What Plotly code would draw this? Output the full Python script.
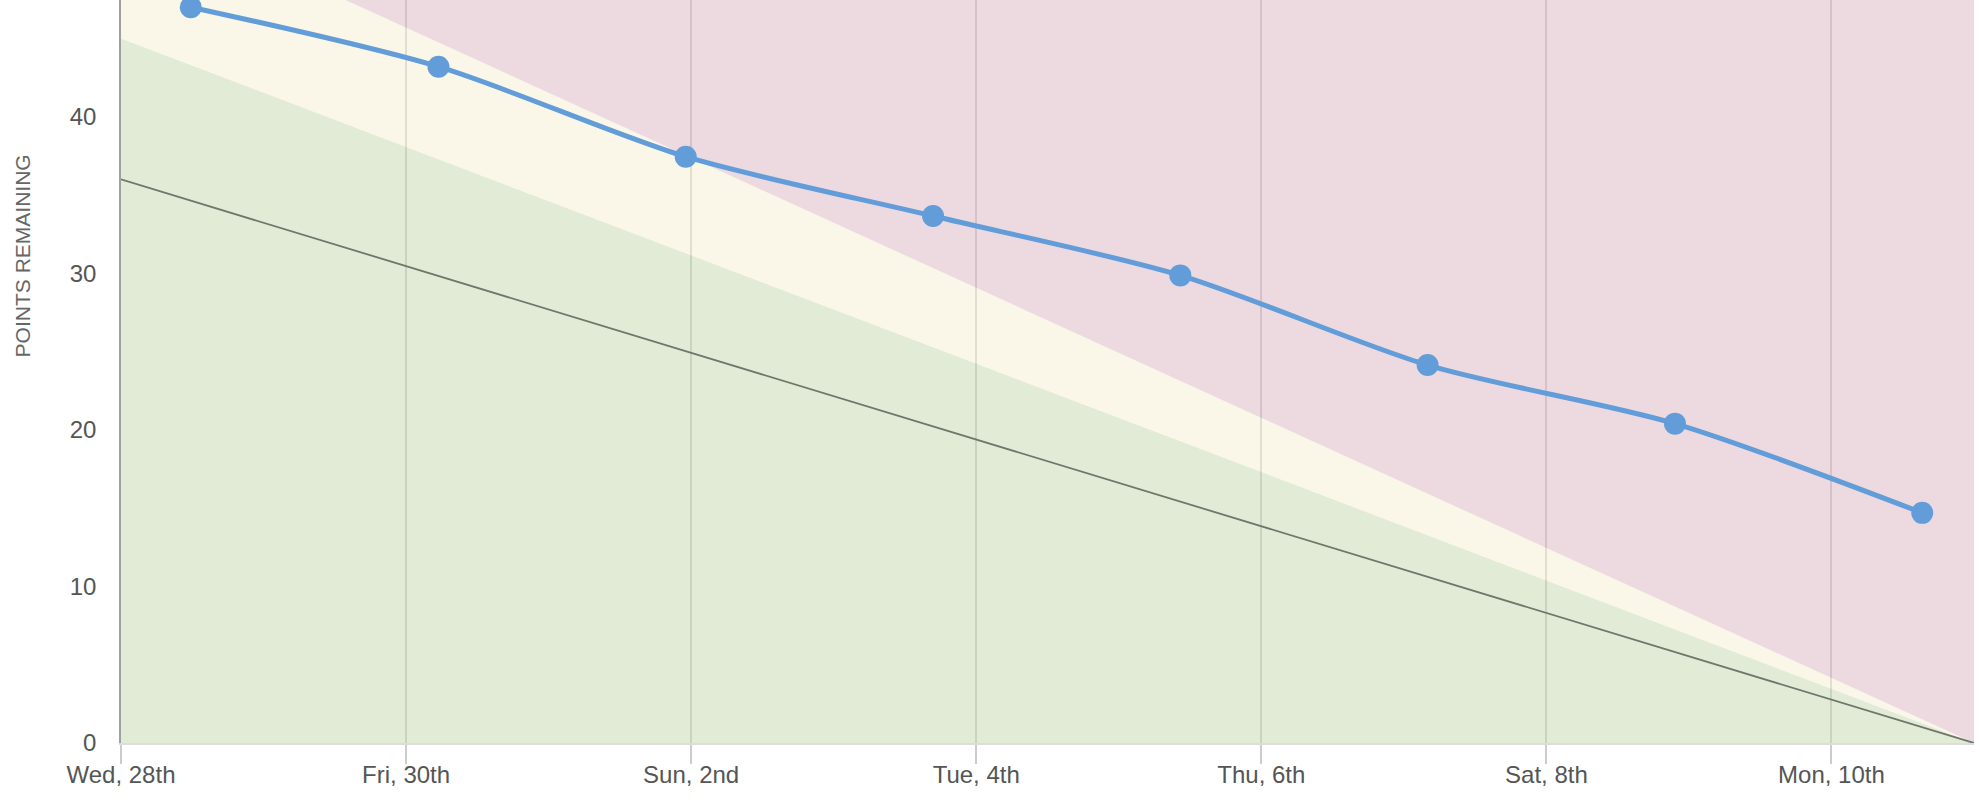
import plotly.graph_objects as go

# fechas de los ticks del eje x y sus etiquetas
tick_fechas = ['2017-06-28', '2017-06-30', '2017-07-02', '2017-07-04',
               '2017-07-06', '2017-07-08', '2017-07-10']
tick_textos = ['Wed, 28th', 'Fri, 30th', 'Sun, 2nd', 'Tue, 4th',
               'Thu, 6th', 'Sat, 8th', 'Mon, 10th']

# inicio y fin del sprint
sprint = ['2017-06-28', '2017-07-11']

# lineas de referencia (puntos al inicio y al final)
ideal = [36, 0]
limite_verde = [45, 0]
limite_amarillo = [54, 0]
techo = [60, 60]

# puntos restantes medidos
fechas_reales = ['2017-06-28 11:45', '2017-06-30 05:27', '2017-07-01 23:05',
                 '2017-07-03 16:44', '2017-07-05 10:22', '2017-07-07 04:00',
                 '2017-07-08 21:39', '2017-07-10 15:17']
puntos_reales = [47, 43.2, 37.45, 33.66, 29.87, 24.14, 20.4, 14.7]

fig = go.Figure()

fig.add_trace(go.Scatter(
    x=sprint, y=limite_verde, mode='lines', line=dict(width=0),
    fill='tozeroy', fillcolor='rgba(207,222,185,0.6)', hoverinfo='skip'
))
fig.add_trace(go.Scatter(
    x=sprint, y=limite_amarillo, mode='lines', line=dict(width=0),
    fill='tonexty', fillcolor='rgba(247,242,217,0.6)', hoverinfo='skip'
))
fig.add_trace(go.Scatter(
    x=sprint, y=techo, mode='lines', line=dict(width=0),
    fill='tonexty', fillcolor='rgba(223,193,203,0.6)', hoverinfo='skip'
))
fig.add_trace(go.Scatter(
    x=sprint, y=ideal, mode='lines',
    line=dict(color='#6f776c', width=1.8)
))
fig.add_trace(go.Scatter(
    x=fechas_reales, y=puntos_reales, mode='lines+markers',
    line=dict(color='#629dd9', width=5, shape='spline', smoothing=0.8),
    marker=dict(color='#629dd9', size=22)
))

fig.update_layout(
    width=1980, height=802,
    margin=dict(l=121, r=6, t=0, b=59, autoexpand=False),
    showlegend=False,
    plot_bgcolor='white', paper_bgcolor='white',
    font=dict(family='Liberation Sans, Arial, sans-serif', color='#555555'),
    annotations=[dict(
        text='POINTS REMAINING', textangle=-90,
        xref='paper', yref='paper', x=-0.053, y=0.656,
        xanchor='center', yanchor='middle',
        showarrow=False, font=dict(size=21, color='#666666')
    )]
)

fig.update_xaxes(
    type='date', range=sprint,
    tickvals=tick_fechas, ticktext=tick_textos,
    tickfont=dict(size=24), ticklabelstandoff=-10,
    showgrid=True, gridcolor='#c4c4c4', gridwidth=1.5,
    ticks='outside', ticklen=19, tickcolor='#cccccc', tickwidth=1.5,
    showline=True, linecolor='#dddddd', linewidth=2,
    zeroline=False
)
fig.update_yaxes(
    range=[0, 47.46],
    tickvals=[0, 10, 20, 30, 40],
    tickfont=dict(size=24),
    showgrid=False, zeroline=False,
    ticks='outside', ticklen=18, tickcolor='rgba(0,0,0,0)',
    showline=True, linecolor='#a0a0a0', linewidth=1.5
)

# quitar el margen por defecto del body para que el grafico quede en (0, 0)
fig.write_html("out.html", config={'displayModeBar': False},
               post_script="document.body.style.margin='0';")
